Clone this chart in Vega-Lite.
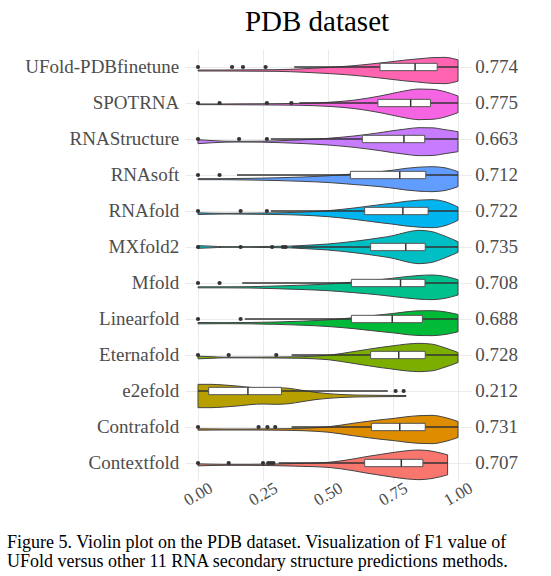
{
  "$schema": "https://vega.github.io/schema/vega-lite/v6.json",
  "padding": {"left": 7, "top": 8, "right": 5, "bottom": 4},
  "background": "white",
  "config": {
    "font": "Liberation Serif",
    "view": {"stroke": null},
    "concat": {"spacing": 0}
  },
  "title": {
    "text": ["Figure 5. Violin plot on the PDB dataset. Visualization of F1 value of", "UFold versus other 11 RNA secondary structure predictions methods."],
    "orient": "bottom", "anchor": "start", "frame": "group", "dx": -178,
    "fontSize": 18, "fontWeight": "normal", "lineHeight": 19, "color": "black", "offset": 26
  },
  "vconcat": [
    {
      "title": {"text": "PDB dataset", "fontSize": 29, "fontWeight": "normal", "anchor": "middle", "frame": "group", "dx": 132, "color": "black", "offset": 12},
      "data": {"values": [
        {"method":"UFold-PDBfinetune","kind":"density","f1":0,"density":0.03},
        {"method":"UFold-PDBfinetune","kind":"density","f1":0.1,"density":0.03},
        {"method":"UFold-PDBfinetune","kind":"density","f1":0.2,"density":0.04},
        {"method":"UFold-PDBfinetune","kind":"density","f1":0.3,"density":0.05},
        {"method":"UFold-PDBfinetune","kind":"density","f1":0.4,"density":0.10},
        {"method":"UFold-PDBfinetune","kind":"density","f1":0.5,"density":0.18},
        {"method":"UFold-PDBfinetune","kind":"density","f1":0.6,"density":0.29},
        {"method":"UFold-PDBfinetune","kind":"density","f1":0.7,"density":0.45},
        {"method":"UFold-PDBfinetune","kind":"density","f1":0.75,"density":0.54},
        {"method":"UFold-PDBfinetune","kind":"density","f1":0.8,"density":0.63},
        {"method":"UFold-PDBfinetune","kind":"density","f1":0.85,"density":0.70},
        {"method":"UFold-PDBfinetune","kind":"density","f1":0.9,"density":0.77},
        {"method":"UFold-PDBfinetune","kind":"density","f1":0.95,"density":0.79},
        {"method":"UFold-PDBfinetune","kind":"density","f1":0.98,"density":0.72},
        {"method":"UFold-PDBfinetune","kind":"density","f1":1.0,"density":0.64},
        {"method":"SPOTRNA","kind":"density","f1":0,"density":0.02},
        {"method":"SPOTRNA","kind":"density","f1":0.1,"density":0.02},
        {"method":"SPOTRNA","kind":"density","f1":0.2,"density":0.03},
        {"method":"SPOTRNA","kind":"density","f1":0.3,"density":0.04},
        {"method":"SPOTRNA","kind":"density","f1":0.4,"density":0.06},
        {"method":"SPOTRNA","kind":"density","f1":0.5,"density":0.12},
        {"method":"SPOTRNA","kind":"density","f1":0.6,"density":0.25},
        {"method":"SPOTRNA","kind":"density","f1":0.7,"density":0.50},
        {"method":"SPOTRNA","kind":"density","f1":0.75,"density":0.66},
        {"method":"SPOTRNA","kind":"density","f1":0.8,"density":0.82},
        {"method":"SPOTRNA","kind":"density","f1":0.85,"density":0.92},
        {"method":"SPOTRNA","kind":"density","f1":0.9,"density":0.90},
        {"method":"SPOTRNA","kind":"density","f1":0.95,"density":0.76},
        {"method":"SPOTRNA","kind":"density","f1":1.0,"density":0.50},
        {"method":"RNAStructure","kind":"density","f1":0,"density":0.12},
        {"method":"RNAStructure","kind":"density","f1":0.05,"density":0.07},
        {"method":"RNAStructure","kind":"density","f1":0.1,"density":0.03},
        {"method":"RNAStructure","kind":"density","f1":0.15,"density":0.02},
        {"method":"RNAStructure","kind":"density","f1":0.25,"density":0.03},
        {"method":"RNAStructure","kind":"density","f1":0.3,"density":0.05},
        {"method":"RNAStructure","kind":"density","f1":0.4,"density":0.11},
        {"method":"RNAStructure","kind":"density","f1":0.5,"density":0.20},
        {"method":"RNAStructure","kind":"density","f1":0.6,"density":0.34},
        {"method":"RNAStructure","kind":"density","f1":0.7,"density":0.54},
        {"method":"RNAStructure","kind":"density","f1":0.75,"density":0.66},
        {"method":"RNAStructure","kind":"density","f1":0.8,"density":0.76},
        {"method":"RNAStructure","kind":"density","f1":0.85,"density":0.84},
        {"method":"RNAStructure","kind":"density","f1":0.9,"density":0.83},
        {"method":"RNAStructure","kind":"density","f1":0.95,"density":0.72},
        {"method":"RNAStructure","kind":"density","f1":1.0,"density":0.60},
        {"method":"RNAsoft","kind":"density","f1":0,"density":0.03},
        {"method":"RNAsoft","kind":"density","f1":0.1,"density":0.03},
        {"method":"RNAsoft","kind":"density","f1":0.2,"density":0.05},
        {"method":"RNAsoft","kind":"density","f1":0.3,"density":0.08},
        {"method":"RNAsoft","kind":"density","f1":0.4,"density":0.13},
        {"method":"RNAsoft","kind":"density","f1":0.5,"density":0.20},
        {"method":"RNAsoft","kind":"density","f1":0.6,"density":0.32},
        {"method":"RNAsoft","kind":"density","f1":0.7,"density":0.45},
        {"method":"RNAsoft","kind":"density","f1":0.75,"density":0.54},
        {"method":"RNAsoft","kind":"density","f1":0.8,"density":0.65},
        {"method":"RNAsoft","kind":"density","f1":0.85,"density":0.72},
        {"method":"RNAsoft","kind":"density","f1":0.9,"density":0.75},
        {"method":"RNAsoft","kind":"density","f1":0.95,"density":0.68},
        {"method":"RNAsoft","kind":"density","f1":1.0,"density":0.45},
        {"method":"RNAfold","kind":"density","f1":0,"density":0.05},
        {"method":"RNAfold","kind":"density","f1":0.1,"density":0.02},
        {"method":"RNAfold","kind":"density","f1":0.2,"density":0.03},
        {"method":"RNAfold","kind":"density","f1":0.3,"density":0.05},
        {"method":"RNAfold","kind":"density","f1":0.4,"density":0.09},
        {"method":"RNAfold","kind":"density","f1":0.5,"density":0.18},
        {"method":"RNAfold","kind":"density","f1":0.6,"density":0.34},
        {"method":"RNAfold","kind":"density","f1":0.7,"density":0.54},
        {"method":"RNAfold","kind":"density","f1":0.75,"density":0.63},
        {"method":"RNAfold","kind":"density","f1":0.8,"density":0.74},
        {"method":"RNAfold","kind":"density","f1":0.85,"density":0.81},
        {"method":"RNAfold","kind":"density","f1":0.9,"density":0.84},
        {"method":"RNAfold","kind":"density","f1":0.95,"density":0.72},
        {"method":"RNAfold","kind":"density","f1":1.0,"density":0.40},
        {"method":"MXfold2","kind":"density","f1":0,"density":0.08},
        {"method":"MXfold2","kind":"density","f1":0.05,"density":0.05},
        {"method":"MXfold2","kind":"density","f1":0.1,"density":0.02},
        {"method":"MXfold2","kind":"density","f1":0.2,"density":0.02},
        {"method":"MXfold2","kind":"density","f1":0.3,"density":0.04},
        {"method":"MXfold2","kind":"density","f1":0.35,"density":0.05},
        {"method":"MXfold2","kind":"density","f1":0.4,"density":0.09},
        {"method":"MXfold2","kind":"density","f1":0.5,"density":0.18},
        {"method":"MXfold2","kind":"density","f1":0.6,"density":0.34},
        {"method":"MXfold2","kind":"density","f1":0.7,"density":0.55},
        {"method":"MXfold2","kind":"density","f1":0.75,"density":0.68},
        {"method":"MXfold2","kind":"density","f1":0.8,"density":0.88},
        {"method":"MXfold2","kind":"density","f1":0.85,"density":1.0},
        {"method":"MXfold2","kind":"density","f1":0.9,"density":0.92},
        {"method":"MXfold2","kind":"density","f1":0.95,"density":0.65},
        {"method":"MXfold2","kind":"density","f1":1.0,"density":0.32},
        {"method":"Mfold","kind":"density","f1":0,"density":0.03},
        {"method":"Mfold","kind":"density","f1":0.1,"density":0.03},
        {"method":"Mfold","kind":"density","f1":0.2,"density":0.04},
        {"method":"Mfold","kind":"density","f1":0.3,"density":0.08},
        {"method":"Mfold","kind":"density","f1":0.4,"density":0.13},
        {"method":"Mfold","kind":"density","f1":0.5,"density":0.20},
        {"method":"Mfold","kind":"density","f1":0.6,"density":0.32},
        {"method":"Mfold","kind":"density","f1":0.7,"density":0.46},
        {"method":"Mfold","kind":"density","f1":0.75,"density":0.55},
        {"method":"Mfold","kind":"density","f1":0.8,"density":0.64},
        {"method":"Mfold","kind":"density","f1":0.85,"density":0.71},
        {"method":"Mfold","kind":"density","f1":0.9,"density":0.74},
        {"method":"Mfold","kind":"density","f1":0.95,"density":0.66},
        {"method":"Mfold","kind":"density","f1":1.0,"density":0.46},
        {"method":"Linearfold","kind":"density","f1":0,"density":0.04},
        {"method":"Linearfold","kind":"density","f1":0.1,"density":0.03},
        {"method":"Linearfold","kind":"density","f1":0.2,"density":0.04},
        {"method":"Linearfold","kind":"density","f1":0.3,"density":0.07},
        {"method":"Linearfold","kind":"density","f1":0.4,"density":0.12},
        {"method":"Linearfold","kind":"density","f1":0.5,"density":0.20},
        {"method":"Linearfold","kind":"density","f1":0.6,"density":0.33},
        {"method":"Linearfold","kind":"density","f1":0.7,"density":0.50},
        {"method":"Linearfold","kind":"density","f1":0.75,"density":0.58},
        {"method":"Linearfold","kind":"density","f1":0.8,"density":0.68},
        {"method":"Linearfold","kind":"density","f1":0.85,"density":0.74},
        {"method":"Linearfold","kind":"density","f1":0.9,"density":0.75},
        {"method":"Linearfold","kind":"density","f1":0.95,"density":0.68},
        {"method":"Linearfold","kind":"density","f1":1.0,"density":0.52},
        {"method":"Eternafold","kind":"density","f1":0,"density":0.08},
        {"method":"Eternafold","kind":"density","f1":0.05,"density":0.05},
        {"method":"Eternafold","kind":"density","f1":0.1,"density":0.02},
        {"method":"Eternafold","kind":"density","f1":0.2,"density":0.02},
        {"method":"Eternafold","kind":"density","f1":0.3,"density":0.03},
        {"method":"Eternafold","kind":"density","f1":0.4,"density":0.05},
        {"method":"Eternafold","kind":"density","f1":0.45,"density":0.08},
        {"method":"Eternafold","kind":"density","f1":0.5,"density":0.13},
        {"method":"Eternafold","kind":"density","f1":0.6,"density":0.36},
        {"method":"Eternafold","kind":"density","f1":0.7,"density":0.60},
        {"method":"Eternafold","kind":"density","f1":0.75,"density":0.70},
        {"method":"Eternafold","kind":"density","f1":0.8,"density":0.80},
        {"method":"Eternafold","kind":"density","f1":0.85,"density":0.85},
        {"method":"Eternafold","kind":"density","f1":0.9,"density":0.80},
        {"method":"Eternafold","kind":"density","f1":0.95,"density":0.58},
        {"method":"Eternafold","kind":"density","f1":1.0,"density":0.30},
        {"method":"e2efold","kind":"density","f1":0,"density":0.70},
        {"method":"e2efold","kind":"density","f1":0.05,"density":0.70},
        {"method":"e2efold","kind":"density","f1":0.1,"density":0.66},
        {"method":"e2efold","kind":"density","f1":0.15,"density":0.60},
        {"method":"e2efold","kind":"density","f1":0.2,"density":0.52},
        {"method":"e2efold","kind":"density","f1":0.25,"density":0.48},
        {"method":"e2efold","kind":"density","f1":0.3,"density":0.50},
        {"method":"e2efold","kind":"density","f1":0.35,"density":0.46},
        {"method":"e2efold","kind":"density","f1":0.4,"density":0.34},
        {"method":"e2efold","kind":"density","f1":0.45,"density":0.22},
        {"method":"e2efold","kind":"density","f1":0.5,"density":0.14},
        {"method":"e2efold","kind":"density","f1":0.55,"density":0.09},
        {"method":"e2efold","kind":"density","f1":0.6,"density":0.06},
        {"method":"e2efold","kind":"density","f1":0.7,"density":0.04},
        {"method":"e2efold","kind":"density","f1":0.8,"density":0.03},
        {"method":"Contrafold","kind":"density","f1":0,"density":0.04},
        {"method":"Contrafold","kind":"density","f1":0.1,"density":0.03},
        {"method":"Contrafold","kind":"density","f1":0.2,"density":0.03},
        {"method":"Contrafold","kind":"density","f1":0.3,"density":0.04},
        {"method":"Contrafold","kind":"density","f1":0.4,"density":0.07},
        {"method":"Contrafold","kind":"density","f1":0.5,"density":0.16},
        {"method":"Contrafold","kind":"density","f1":0.6,"density":0.38},
        {"method":"Contrafold","kind":"density","f1":0.7,"density":0.58},
        {"method":"Contrafold","kind":"density","f1":0.75,"density":0.66},
        {"method":"Contrafold","kind":"density","f1":0.8,"density":0.76},
        {"method":"Contrafold","kind":"density","f1":0.85,"density":0.83},
        {"method":"Contrafold","kind":"density","f1":0.9,"density":0.85},
        {"method":"Contrafold","kind":"density","f1":0.95,"density":0.72},
        {"method":"Contrafold","kind":"density","f1":1.0,"density":0.48},
        {"method":"Contextfold","kind":"density","f1":0,"density":0.06},
        {"method":"Contextfold","kind":"density","f1":0.05,"density":0.04},
        {"method":"Contextfold","kind":"density","f1":0.1,"density":0.03},
        {"method":"Contextfold","kind":"density","f1":0.2,"density":0.03},
        {"method":"Contextfold","kind":"density","f1":0.3,"density":0.05},
        {"method":"Contextfold","kind":"density","f1":0.4,"density":0.09},
        {"method":"Contextfold","kind":"density","f1":0.5,"density":0.15},
        {"method":"Contextfold","kind":"density","f1":0.6,"density":0.36},
        {"method":"Contextfold","kind":"density","f1":0.65,"density":0.50},
        {"method":"Contextfold","kind":"density","f1":0.7,"density":0.62},
        {"method":"Contextfold","kind":"density","f1":0.75,"density":0.74},
        {"method":"Contextfold","kind":"density","f1":0.8,"density":0.84},
        {"method":"Contextfold","kind":"density","f1":0.85,"density":0.89},
        {"method":"Contextfold","kind":"density","f1":0.9,"density":0.82},
        {"method":"Contextfold","kind":"density","f1":0.96,"density":0.60},

        {"method":"UFold-PDBfinetune","kind":"box","q1":0.70,"median":0.835,"q3":0.92,"lo":0.37,"hi":1.0,"mean":0.774},
        {"method":"SPOTRNA","kind":"box","q1":0.692,"median":0.818,"q3":0.894,"lo":0.39,"hi":1.0,"mean":0.775},
        {"method":"RNAStructure","kind":"box","q1":0.632,"median":0.792,"q3":0.872,"lo":0.28,"hi":1.0,"mean":0.663},
        {"method":"RNAsoft","kind":"box","q1":0.586,"median":0.776,"q3":0.876,"lo":0.15,"hi":1.0,"mean":0.712},
        {"method":"RNAfold","kind":"box","q1":0.641,"median":0.788,"q3":0.885,"lo":0.28,"hi":1.0,"mean":0.722},
        {"method":"MXfold2","kind":"box","q1":0.664,"median":0.799,"q3":0.874,"lo":0.36,"hi":1.0,"mean":0.735},
        {"method":"Mfold","kind":"box","q1":0.59,"median":0.779,"q3":0.873,"lo":0.17,"hi":1.0,"mean":0.708},
        {"method":"Linearfold","kind":"box","q1":0.59,"median":0.747,"q3":0.863,"lo":0.18,"hi":1.0,"mean":0.688},
        {"method":"Eternafold","kind":"box","q1":0.664,"median":0.772,"q3":0.874,"lo":0.36,"hi":1.0,"mean":0.728},
        {"method":"e2efold","kind":"box","q1":0.041,"median":0.192,"q3":0.321,"lo":0.0,"hi":0.73,"mean":0.212},
        {"method":"Contrafold","kind":"box","q1":0.667,"median":0.776,"q3":0.874,"lo":0.36,"hi":1.0,"mean":0.731},
        {"method":"Contextfold","kind":"box","q1":0.641,"median":0.782,"q3":0.865,"lo":0.31,"hi":0.96,"mean":0.707},

        {"method":"UFold-PDBfinetune","kind":"outlier","f1":0},
        {"method":"UFold-PDBfinetune","kind":"outlier","f1":0.131},
        {"method":"UFold-PDBfinetune","kind":"outlier","f1":0.173},
        {"method":"UFold-PDBfinetune","kind":"outlier","f1":0.26},
        {"method":"SPOTRNA","kind":"outlier","f1":0},
        {"method":"SPOTRNA","kind":"outlier","f1":0.083},
        {"method":"SPOTRNA","kind":"outlier","f1":0.265},
        {"method":"SPOTRNA","kind":"outlier","f1":0.359},
        {"method":"RNAStructure","kind":"outlier","f1":0},
        {"method":"RNAStructure","kind":"outlier","f1":0.158},
        {"method":"RNAStructure","kind":"outlier","f1":0.265},
        {"method":"RNAsoft","kind":"outlier","f1":0},
        {"method":"RNAsoft","kind":"outlier","f1":0.083},
        {"method":"RNAfold","kind":"outlier","f1":0},
        {"method":"RNAfold","kind":"outlier","f1":0.164},
        {"method":"RNAfold","kind":"outlier","f1":0.265},
        {"method":"MXfold2","kind":"outlier","f1":0},
        {"method":"MXfold2","kind":"outlier","f1":0.164},
        {"method":"MXfold2","kind":"outlier","f1":0.285},
        {"method":"MXfold2","kind":"outlier","f1":0.327},
        {"method":"MXfold2","kind":"outlier","f1":0.337},
        {"method":"Mfold","kind":"outlier","f1":0},
        {"method":"Mfold","kind":"outlier","f1":0.083},
        {"method":"Linearfold","kind":"outlier","f1":0},
        {"method":"Linearfold","kind":"outlier","f1":0.164},
        {"method":"Eternafold","kind":"outlier","f1":0},
        {"method":"Eternafold","kind":"outlier","f1":0.118},
        {"method":"Eternafold","kind":"outlier","f1":0.301},
        {"method":"e2efold","kind":"outlier","f1":0.76},
        {"method":"e2efold","kind":"outlier","f1":0.791},
        {"method":"Contrafold","kind":"outlier","f1":0},
        {"method":"Contrafold","kind":"outlier","f1":0.233},
        {"method":"Contrafold","kind":"outlier","f1":0.267},
        {"method":"Contrafold","kind":"outlier","f1":0.297},
        {"method":"Contextfold","kind":"outlier","f1":0},
        {"method":"Contextfold","kind":"outlier","f1":0.118},
        {"method":"Contextfold","kind":"outlier","f1":0.25},
        {"method":"Contextfold","kind":"outlier","f1":0.27},
        {"method":"Contextfold","kind":"outlier","f1":0.28},
        {"method":"Contextfold","kind":"outlier","f1":0.29}
      ]},
      "facet": {
        "row": {
          "field": "method", "type": "nominal",
          "sort": ["UFold-PDBfinetune","SPOTRNA","RNAStructure","RNAsoft","RNAfold","MXfold2","Mfold","Linearfold","Eternafold","e2efold","Contrafold","Contextfold"],
          "header": {"labels": false, "title": null}
        }
      },
      "spacing": {"row": 0, "column": 0},
      "bounds": "flush",
      "spec": {
        "width": 286,
        "height": 36,
        "layer": [
          {
            "transform": [{"filter": "datum.kind === 'density'"}],
            "mark": {"type": "area", "interpolate": "monotone", "stroke": "#444444", "strokeWidth": 1, "opacity": 1},
            "encoding": {
              "x": {
                "field": "f1", "type": "quantitative", "title": null,
                "scale": {"domain": [-0.05, 1.05], "nice": false, "zero": false},
                "axis": {
                  "values": [0, 0.125, 0.25, 0.375, 0.5, 0.625, 0.75, 0.875, 1],
                  "labelExpr": "(datum.value * 4) % 1 === 0 ? format(datum.value, '.2f') : ''",
                  "grid": true, "gridColor": "#ebebeb", "gridWidth": 1,
                  "ticks": false, "domain": false,
                  "labelAngle": -30, "labelAlign": "center", "labelBaseline": "middle",
                  "labelPadding": 13, "labelFontSize": 17, "labelColor": "#4d4d4d",
                  "labelFont": "Liberation Serif"
                }
              },
              "y": {
                "field": "density", "type": "quantitative", "stack": "center", "title": null,
                "scale": {"domain": [-0.04, 1.04], "nice": false, "zero": false},
                "axis": {"values": [0.5], "grid": true, "gridColor": "#ebebeb", "gridWidth": 1, "labels": false, "ticks": false, "domain": false, "title": null}
              },
              "fill": {
                "field": "method", "type": "nominal", "legend": null,
                "scale": {
                  "domain": ["Contextfold","Contrafold","e2efold","Eternafold","Linearfold","Mfold","MXfold2","RNAfold","RNAsoft","RNAStructure","SPOTRNA","UFold-PDBfinetune"],
                  "range": ["#F8766D","#DE8C00","#B79F00","#7CAE00","#00BA38","#00C08B","#00BFC4","#00B4F0","#619CFF","#C77CFF","#F564E3","#FF64B0"]
                }
              }
            }
          },
          {
            "transform": [{"filter": "datum.kind === 'box'"}],
            "mark": {"type": "rule", "color": "#333333", "strokeWidth": 1.4},
            "encoding": {
              "x": {"field": "lo", "type": "quantitative", "title": null},
              "x2": {"field": "hi"},
              "y": {"datum": 0.5}
            }
          },
          {
            "transform": [{"filter": "datum.kind === 'box'"}],
            "mark": {"type": "rect", "fill": "white", "stroke": "#555555", "strokeWidth": 1},
            "encoding": {
              "x": {"field": "q1", "type": "quantitative", "title": null},
              "x2": {"field": "q3"},
              "y": {"datum": 0.39},
              "y2": {"datum": 0.61}
            }
          },
          {
            "transform": [{"filter": "datum.kind === 'box'"}],
            "mark": {"type": "rule", "color": "#333333", "strokeWidth": 1.5},
            "encoding": {
              "x": {"field": "median", "type": "quantitative", "title": null},
              "y": {"datum": 0.39},
              "y2": {"datum": 0.61}
            }
          },
          {
            "transform": [{"filter": "datum.kind === 'outlier'"}],
            "mark": {"type": "circle", "color": "#333333", "size": 18, "opacity": 1},
            "encoding": {
              "x": {"field": "f1", "type": "quantitative", "title": null},
              "y": {"datum": 0.5}
            }
          },
          {
            "transform": [{"filter": "datum.kind === 'box'"}],
            "mark": {"type": "text", "align": "right", "baseline": "middle", "fontSize": 19, "color": "#4d4d4d", "font": "Liberation Serif"},
            "encoding": {
              "x": {"datum": -0.072},
              "y": {"datum": 0.5},
              "text": {"field": "method", "type": "nominal"}
            }
          },
          {
            "transform": [{"filter": "datum.kind === 'box'"}],
            "mark": {"type": "text", "align": "left", "baseline": "middle", "fontSize": 19, "color": "#4d4d4d", "font": "Liberation Serif"},
            "encoding": {
              "x": {"datum": 1.066},
              "y": {"datum": 0.5},
              "text": {"field": "mean", "type": "quantitative", "format": ".3f"}
            }
          }
        ]
      }
    }
  ]
}
